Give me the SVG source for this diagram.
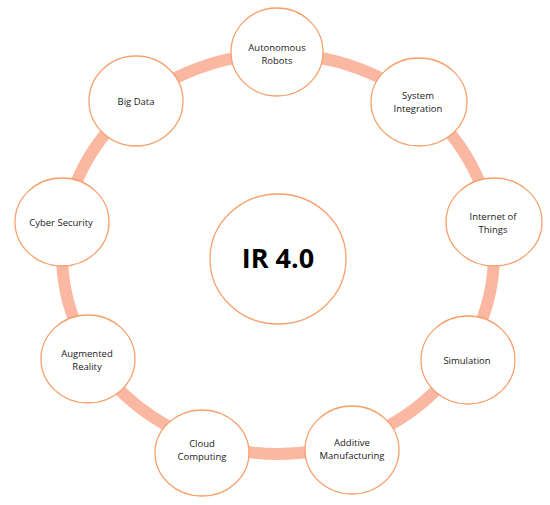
<svg xmlns="http://www.w3.org/2000/svg" width="550" height="505" viewBox="0 0 550 505">
<style>
.node{fill:#ffffff;stroke:#F6A16C;stroke-width:1.3}
.lbl{font-family:"Open Sans","Liberation Sans",sans-serif;font-size:9.5px;fill:#222;text-anchor:middle}
.big{font-family:"Open Sans","Liberation Sans",sans-serif;font-size:27px;font-weight:bold;fill:#000;text-anchor:middle}
</style>
<rect width="550" height="505" fill="#ffffff"/>
<g id="connectors">
<ellipse cx="278" cy="254" rx="216" ry="200" fill="none" stroke="#FAB8A2" stroke-width="12"/>
</g>
<g id="center"><ellipse class="node" cx="278" cy="259" rx="68" ry="65"/><text class="big" x="278" y="268">IR 4.0</text></g>
<g id="autonomous-robots"><ellipse class="node" cx="277" cy="52" rx="46" ry="44"/><text class="lbl" x="277" y="51">Autonomous</text><text class="lbl" x="277" y="64">Robots</text></g>
<g id="system-integration"><ellipse class="node" cx="419" cy="102" rx="48" ry="44"/><text class="lbl" x="418" y="99">System</text><text class="lbl" x="418" y="112">Integration</text></g>
<g id="internet-of-things"><ellipse class="node" cx="494" cy="222" rx="48" ry="44"/><text class="lbl" x="493" y="220">Internet of</text><text class="lbl" x="493" y="233">Things</text></g>
<g id="simulation"><ellipse class="node" cx="468" cy="360" rx="47" ry="44"/><text class="lbl" x="467" y="364">Simulation</text></g>
<g id="additive-manufacturing"><ellipse class="node" cx="352" cy="450" rx="47" ry="44"/><text class="lbl" x="352" y="446">Additive</text><text class="lbl" x="352" y="459">Manufacturing</text></g>
<g id="cloud-computing"><ellipse class="node" cx="202" cy="453" rx="47" ry="43"/><text class="lbl" x="202" y="447">Cloud</text><text class="lbl" x="202" y="460">Computing</text></g>
<g id="augmented-reality"><ellipse class="node" cx="88" cy="359" rx="47" ry="44"/><text class="lbl" x="87" y="357">Augmented</text><text class="lbl" x="87" y="370">Reality</text></g>
<g id="cyber-security"><ellipse class="node" cx="62" cy="222" rx="47" ry="44"/><text class="lbl" x="61" y="226">Cyber Security</text></g>
<g id="big-data"><ellipse class="node" cx="136" cy="101" rx="47" ry="45"/><text class="lbl" x="136" y="105">Big Data</text></g>
</svg>
